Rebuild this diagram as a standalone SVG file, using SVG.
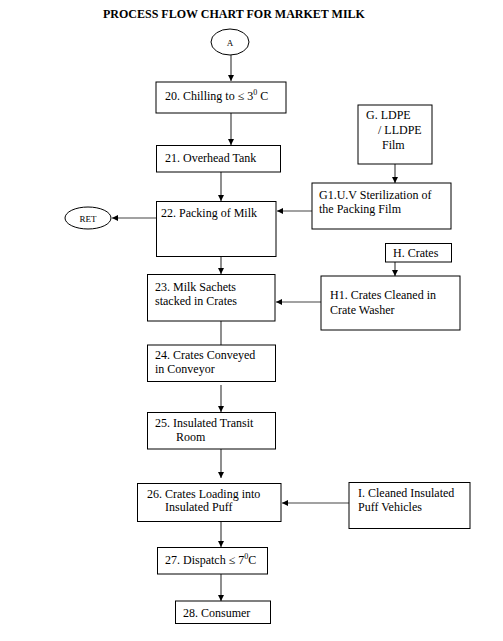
<svg xmlns="http://www.w3.org/2000/svg" width="503" height="641" viewBox="0 0 503 641">
<style>
.box{fill:#fff;stroke:#000;stroke-width:1}
.t{font-family:"Liberation Serif","Times New Roman",serif;font-size:12px;fill:#000}
.s{font-family:"Liberation Serif","Times New Roman",serif;font-size:9px;fill:#000}
.title{font-family:"Liberation Serif","Times New Roman",serif;font-size:12px;font-weight:bold;fill:#000}
.c{stroke:#444;stroke-width:1.2;fill:none}
</style>
<defs>
<marker id="ah" markerUnits="userSpaceOnUse" markerWidth="7" markerHeight="7" refX="6" refY="3" orient="auto">
<path d="M0,0 L6,3 L0,6 z" fill="#000"/>
</marker>
</defs>
<rect width="503" height="641" fill="#fff"/>
<text class="title" x="103" y="18">PROCESS FLOW CHART FOR MARKET MILK</text>

<g id="connectors">
<line class="c" x1="231" y1="55" x2="231" y2="81" marker-end="url(#ah)"/>
<line class="c" x1="231" y1="113" x2="231" y2="145" marker-end="url(#ah)"/>
<line class="c" x1="221" y1="172" x2="221" y2="201" marker-end="url(#ah)"/>
<line class="c" x1="395" y1="164" x2="395" y2="183" marker-end="url(#ah)"/>
<line class="c" x1="312" y1="211" x2="277" y2="211" marker-end="url(#ah)"/>
<line class="c" x1="156" y1="218" x2="112" y2="218" marker-end="url(#ah)"/>
<line class="c" x1="221" y1="257" x2="221" y2="274" marker-end="url(#ah)"/>
<line class="c" x1="395" y1="262" x2="395" y2="276" marker-end="url(#ah)"/>
<line class="c" x1="321" y1="302" x2="276" y2="302" marker-end="url(#ah)"/>
<line class="c" x1="221" y1="321" x2="221" y2="345"/>
<line class="c" x1="221" y1="385" x2="221" y2="412" marker-end="url(#ah)"/>
<line class="c" x1="221" y1="449" x2="221" y2="478" marker-end="url(#ah)"/>
<line class="c" x1="349" y1="503" x2="282" y2="503" marker-end="url(#ah)"/>
<line class="c" x1="221" y1="522" x2="221" y2="547" marker-end="url(#ah)"/>
<line class="c" x1="221" y1="574" x2="221" y2="601" marker-end="url(#ah)"/>
</g>

<g id="nodeA">
<ellipse class="box" cx="230" cy="42" rx="19" ry="13"/>
<text class="s" x="230" y="45.5" text-anchor="middle">A</text>
</g>
<g id="nodeRET">
<ellipse class="box" cx="88" cy="218" rx="23" ry="11"/>
<text class="s" x="88" y="221.5" text-anchor="middle">RET</text>
</g>
<g id="n20">
<rect class="box" x="156" y="82" width="130" height="31"/>
<text class="t" x="165" y="100">20. Chilling to ≤ 3<tspan font-size="8" dy="-5">0</tspan><tspan dy="5"> C</tspan></text>
</g>
<g id="n21">
<rect class="box" x="156.5" y="145.5" width="124" height="26.5"/>
<text class="t" x="165" y="162">21. Overhead Tank</text>
</g>
<g id="nG">
<rect class="box" x="358" y="105" width="74" height="59"/>
<text class="t" x="366" y="119">G. LDPE</text>
<text class="t" x="378" y="134">/ LLDPE</text>
<text class="t" x="382" y="149">Film</text>
</g>
<g id="nG1">
<rect class="box" x="312" y="183" width="139" height="46"/>
<text class="t" x="319" y="199">G1.U.V Sterilization of</text>
<text class="t" x="319" y="213">the Packing Film</text>
</g>
<g id="n22">
<rect class="box" x="156.5" y="201.5" width="119.5" height="55"/>
<text class="t" x="161" y="217">22. Packing of Milk</text>
</g>
<g id="nH">
<rect class="box" x="385.5" y="243.5" width="66" height="18.5"/>
<text class="t" x="393" y="257">H. Crates</text>
</g>
<g id="nH1">
<rect class="box" x="321" y="276" width="139" height="54"/>
<text class="t" x="330" y="299">H1. Crates Cleaned in</text>
<text class="t" x="330" y="314">Crate Washer</text>
</g>
<g id="n23">
<rect class="box" x="147.5" y="274.5" width="127.5" height="46.5"/>
<text class="t" x="155" y="291">23. Milk Sachets</text>
<text class="t" x="155" y="305">stacked in Crates</text>
</g>
<g id="n24">
<rect class="box" x="147.5" y="345" width="128" height="36.5"/>
<text class="t" x="155" y="359">24. Crates Conveyed</text>
<text class="t" x="155" y="373">in Conveyor</text>
</g>
<g id="n25">
<rect class="box" x="147.5" y="412.5" width="128" height="36.5"/>
<text class="t" x="155" y="427">25. Insulated Transit</text>
<text class="t" x="176" y="441">Room</text>
</g>
<g id="n26">
<rect class="box" x="137.5" y="483.5" width="143.5" height="38"/>
<text class="t" x="147" y="498">26. Crates Loading into</text>
<text class="t" x="165" y="511">Insulated Puff</text>
</g>
<g id="nI">
<rect class="box" x="349" y="482.5" width="121" height="46"/>
<text class="t" x="358" y="497">I. Cleaned Insulated</text>
<text class="t" x="358" y="511">Puff Vehicles</text>
</g>
<g id="n27">
<rect class="box" x="157.5" y="547.5" width="110" height="26.5"/>
<text class="t" x="165" y="564">27.  Dispatch ≤ 7<tspan font-size="8" dy="-5">0</tspan><tspan dy="5">C</tspan></text>
</g>
<g id="n28">
<rect class="box" x="175.5" y="601" width="95" height="22.5"/>
<text class="t" x="183" y="617">28. Consumer</text>
</g>
</svg>
